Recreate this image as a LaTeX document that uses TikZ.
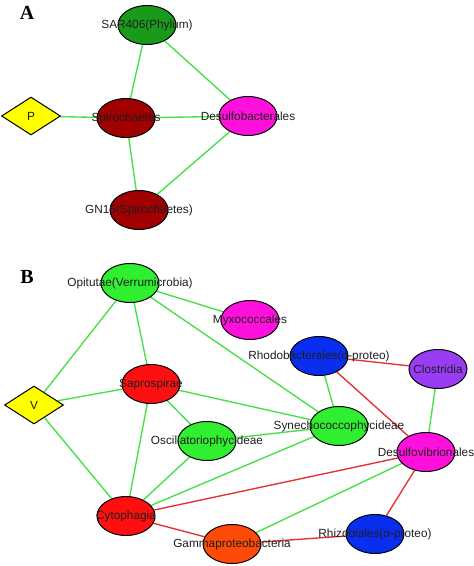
\documentclass[tikz,border=0pt]{standalone}
\usepackage{fontspec}
\setmainfont{Liberation Sans}
\newfontfamily\serifbf{Liberation Serif}
\usetikzlibrary{shapes.geometric,backgrounds}
\definecolor{egreen}{HTML}{44E044}
\definecolor{ered}{HTML}{E53030}
\definecolor{dgreen}{HTML}{1A9A1A}
\definecolor{dred}{HTML}{A00000}
\definecolor{mag}{HTML}{FF10DD}
\definecolor{lgreen}{HTML}{30EE30}
\definecolor{bred}{HTML}{FF1010}
\definecolor{bblue}{HTML}{0A2EF0}
\definecolor{purp}{HTML}{9B3CF5}
\definecolor{orng}{HTML}{FF4A08}
\definecolor{yel}{HTML}{FFFF00}
\definecolor{txt}{HTML}{1E1E1E}
\begin{document}
\begin{tikzpicture}[x=1pt,y=-1pt,
  taxon/.style={ellipse,draw=black,line width=1pt,fill=#1,minimum width=58pt,minimum height=39pt,inner sep=0pt},
  env/.style={diamond,draw=black,line width=1pt,fill=yel,minimum width=59pt,minimum height=38pt,inner sep=0pt,font=\fontsize{11.8}{12}\selectfont,text=txt},
  lab/.style={font=\fontsize{11.8}{12}\selectfont,text=txt,inner sep=0pt},
  posedge/.style={egreen,line width=1.35pt},
  negedge/.style={ered,line width=1.35pt},
  panel/.style={font=\serifbf\bfseries\fontsize{20}{20}\selectfont,inner sep=0pt}]
\useasboundingbox (0,0) rectangle (474,566);
% panel labels
\node[panel] (pA) at (27,13) {A};
\node[panel] (pB) at (27,277) {B};
% ---- A ----
\node[taxon=dgreen] (sar) at (147,25) {};
\node[taxon=dred] (spi) at (126,118) {};
\node[taxon=dred] (gn) at (139,210) {};
\node[taxon=mag] (dsb) at (248,116) {};
\node[env] (P) at (31,116) {P};
% ---- B ----
\node[taxon=lgreen] (opi) at (130,283) {};
\node[taxon=mag] (myx) at (250,320) {};
\node[taxon=bblue] (rho) at (319,356) {};
\node[taxon=purp] (clo) at (438,369) {};
\node[taxon=bred] (sap) at (151,384) {};
\node[env] (V) at (34,405) {V};
\node[taxon=lgreen] (syn) at (339,426) {};
\node[taxon=lgreen] (osc) at (207,441) {};
\node[taxon=mag] (dsv) at (426,452) {};
\node[taxon=bred] (cyt) at (126,516) {};
\node[taxon=orng] (gam) at (232,544) {};
\node[taxon=bblue] (rhz) at (375,534) {};
% labels
\node[lab] (tsar) at (sar) {SAR406(Phylum)};
\node[lab] (tspi) at (spi) {Spirochaetes};
\node[lab] (tgn) at (gn) {GN15(Spirochaetes)};
\node[lab] (tdsb) at (dsb) {Desulfobacterales};
\node[lab] (topi) at (opi) {Opitutae(Verrumicrobia)};
\node[lab] (tmyx) at (myx) {Myxococcales};
\node[lab] (trho) at (rho) {Rhodobacterales(α-proteo)};
\node[lab] (tclo) at (clo) {Clostridia};
\node[lab] (tsap) at (sap) {Saprospirae};
\node[lab] (tsyn) at (syn) {Synechococcophycideae};
\node[lab] (tosc) at (osc) {Oscillatoriophycideae};
\node[lab] (tdsv) at (dsv) {Desulfovibrionales};
\node[lab] (tcyt) at (cyt) {Cytophagia};
\node[lab] (tgam) at (gam) {Gammaproteobacteria};
\node[lab] (trhz) at (rhz) {Rhizobiales(α-proteo)};
% edges
\begin{scope}[on background layer]
\draw[posedge] (sar) -- (spi);
\draw[posedge] (sar) -- (dsb);
\draw[posedge] (P) -- (spi);
\draw[posedge] (spi) -- (dsb);
\draw[posedge] (spi) -- (gn);
\draw[posedge] (gn) -- (dsb);
\draw[posedge] (opi) -- (V);
\draw[posedge] (opi) -- (sap);
\draw[posedge] (opi) -- (myx);
\draw[posedge] (opi) -- (syn);
\draw[negedge] (rho) -- (clo);
\draw[posedge] (rho) -- (syn);
\draw[negedge] (rho) -- (dsv);
\draw[posedge] (clo) -- (dsv);
\draw[posedge] (sap) -- (V);
\draw[posedge] (sap) -- (syn);
\draw[posedge] (sap) -- (osc);
\draw[posedge] (sap) -- (cyt);
\draw[posedge] (V) -- (cyt);
\draw[posedge] (osc) -- (syn);
\draw[posedge] (osc) -- (cyt);
\draw[posedge] (syn) -- (cyt);
\draw[negedge] (cyt) -- (dsv);
\draw[negedge] (cyt) -- (gam);
\draw[posedge] (gam) -- (dsv);
\draw[negedge] (gam) -- (rhz);
\draw[negedge] (rhz) -- (dsv);
\end{scope}
\end{tikzpicture}
\end{document}
